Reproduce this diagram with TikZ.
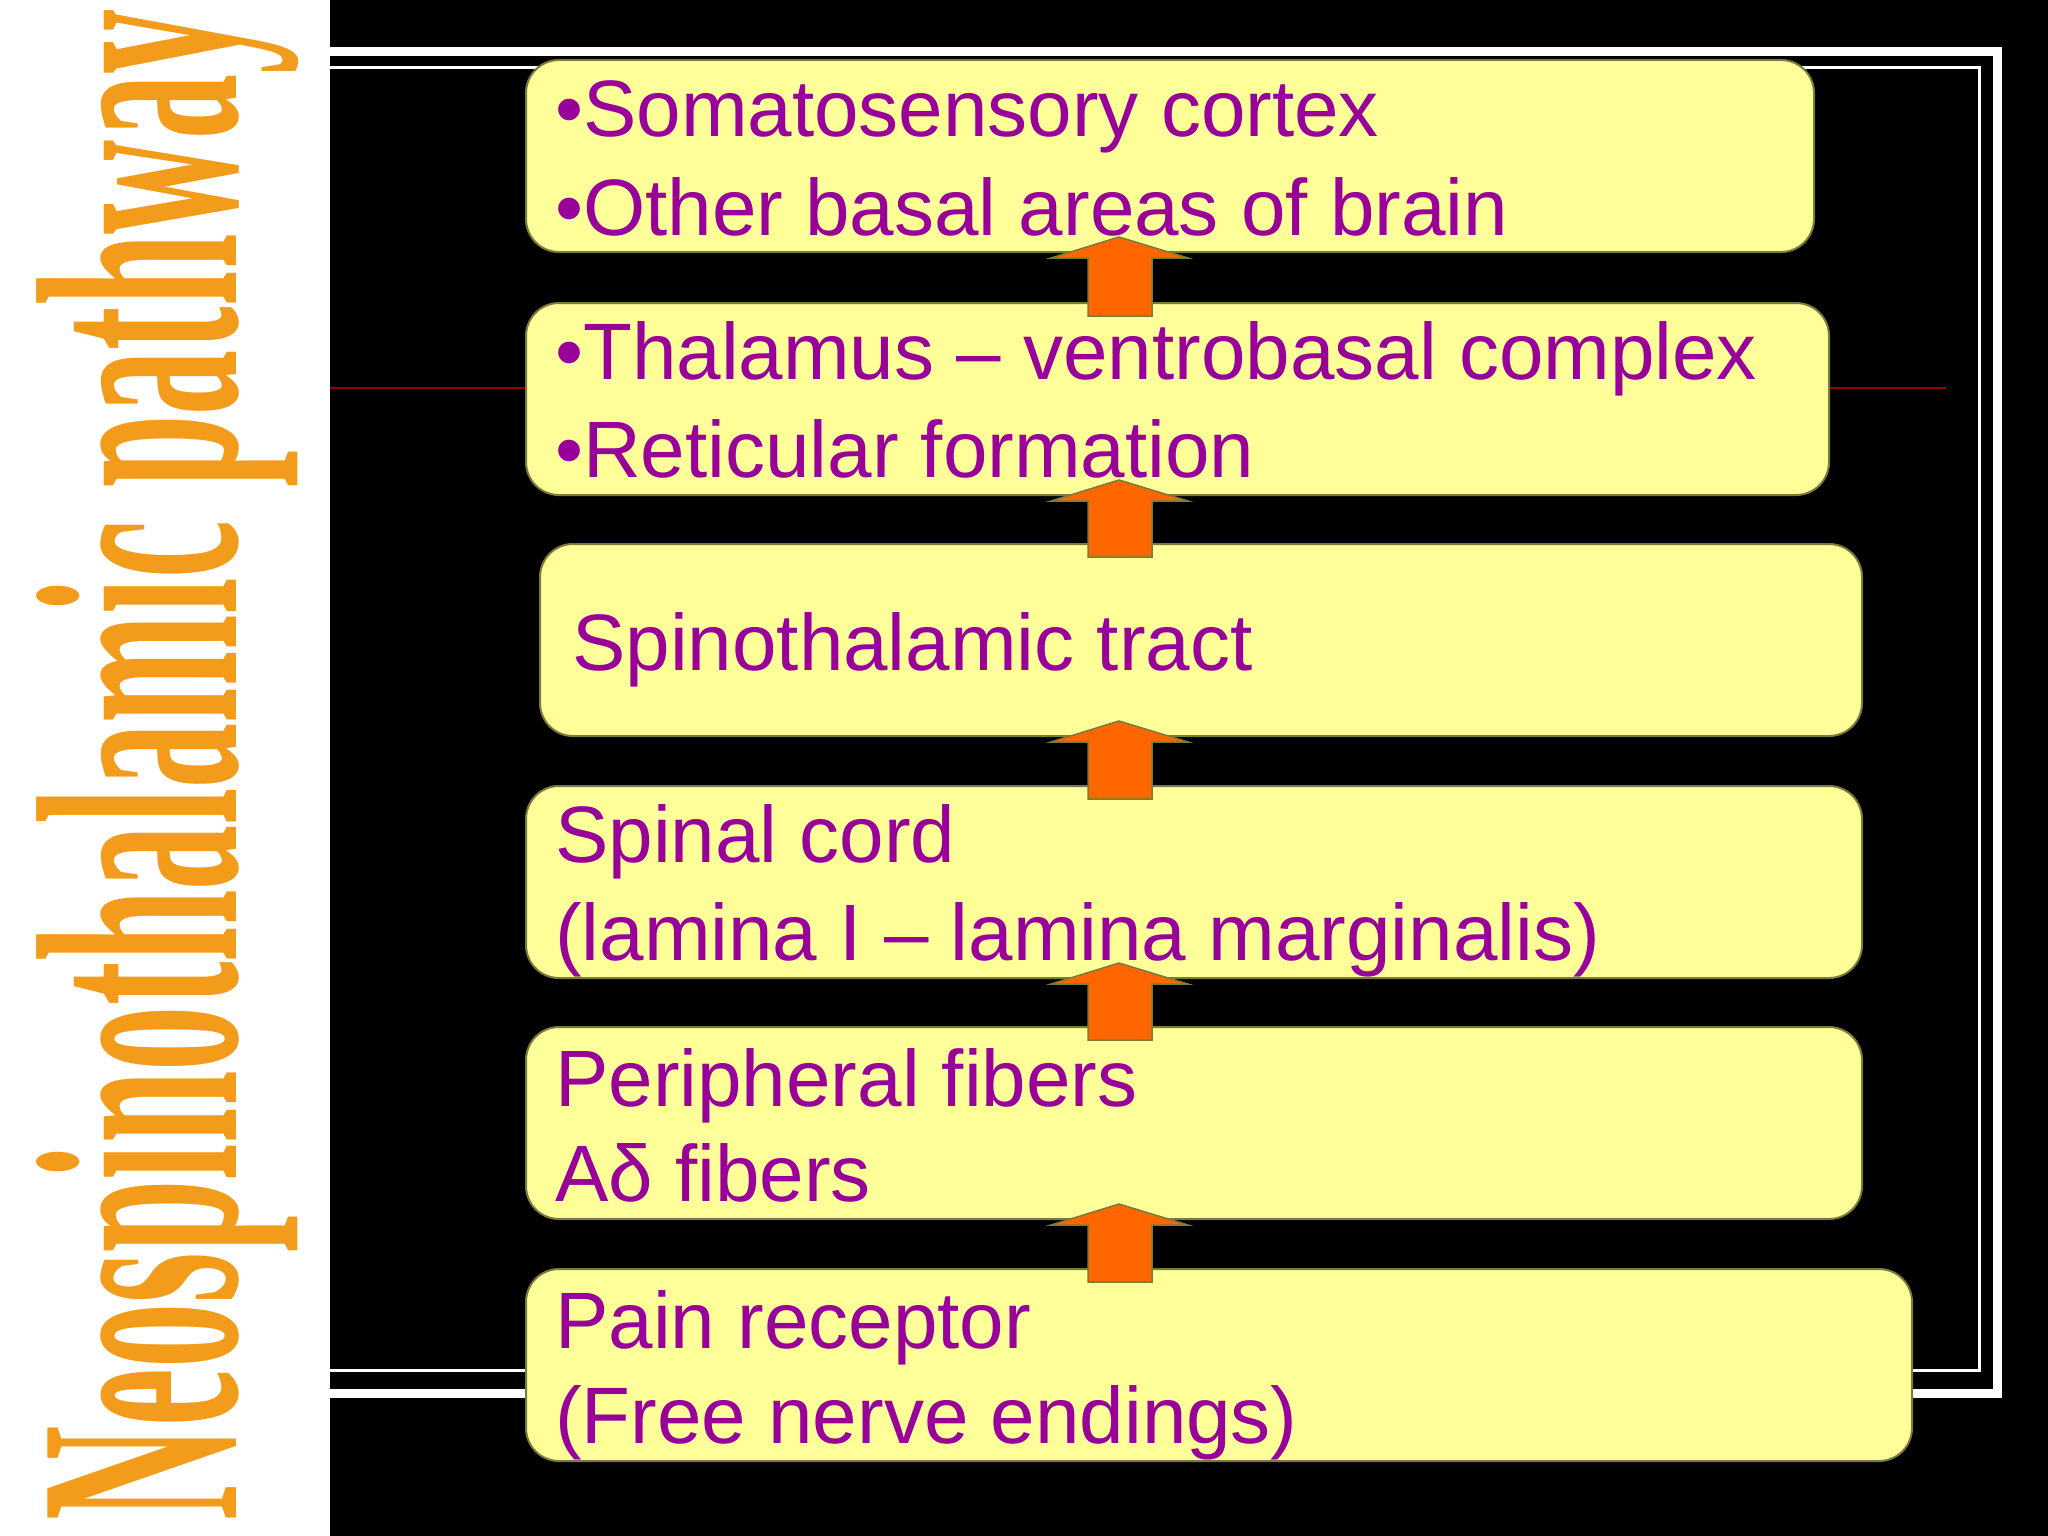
\documentclass[tikz,border=0pt]{standalone}
\usepackage{fontspec}
\setmainfont{Liberation Sans}
\newfontfamily\titlefont{Liberation Serif}
\usetikzlibrary{calc}
\definecolor{boxfill}{HTML}{FFFF99}
\definecolor{boxline}{HTML}{7A7A3A}
\definecolor{txt}{HTML}{990099}
\definecolor{arrfill}{HTML}{FF6600}
\definecolor{titleor}{HTML}{F39C1B}
\tikzset{
  stagebox/.style={draw=boxline, line width=2pt, fill=boxfill, rounded corners=33pt, anchor=north west, inner sep=0pt},
  lbl/.style={anchor=base west, inner sep=0pt, text=txt, font=\fontsize{80}{96}\selectfont},
  arrowshape/.style={fill=arrfill, draw=boxline, line width=1.5pt},
}
\newcommand{\upflow}[2]{%
  \draw[arrowshape] let \p1=(#2.south), \p2=(#1.north) in
    (1088pt,\y2-14pt) -- (1088pt,\y1-5pt) -- (1051pt,\y1-5pt) -- (1119pt,\y1+16pt)
    -- (1188pt,\y1-5pt) -- (1152pt,\y1-5pt) -- (1152pt,\y2-14pt) -- cycle;}
\begin{document}
\begin{tikzpicture}[x=1pt,y=-1pt]
\fill[black] (0,0) rectangle (2048,1536);
\useasboundingbox (0,0) rectangle (2048,1536);
\fill[white] (0,0) rectangle (330,1536);
% frame
\draw[white, line width=9pt] (330,52) -- (1997,52) -- (1997,1393) -- (330,1393);
\draw[white, line width=3pt] (330,68) -- (1979,68) -- (1979,1370) -- (330,1370);
\draw[red!60!black, line width=2.5pt] (330,388) -- (1946,388);
% title
\node[rotate=90, text=titleor, inner sep=0pt] (title) at (168,765)
  {\resizebox*{1510pt}{262pt}{\titlefont\bfseries Neospinothalamic pathway}};
% boxes
\node[stagebox, minimum width=1288pt, minimum height=192pt] (b1) at (525,59) {};
\node[stagebox, minimum width=1303pt, minimum height=192pt] (b2) at (525,302) {};
\node[stagebox, minimum width=1322pt, minimum height=192pt] (b3) at (539,543) {};
\node[stagebox, minimum width=1336pt, minimum height=192pt] (b4) at (525,785) {};
\node[stagebox, minimum width=1336pt, minimum height=192pt] (b5) at (525,1026) {};
\node[stagebox, minimum width=1386pt, minimum height=192pt] (b6) at (525,1268) {};
% texts
\node[lbl] (t1a) at (555,137) {•Somatosensory cortex};
\node[lbl] (t1b) at (555,235) {•Other basal areas of brain};
\node[lbl] (t2a) at (555,379) {•Thalamus – ventrobasal complex};
\node[lbl] (t2b) at (555,477) {•Reticular formation};
\node[lbl] (t3) at (572,670) {Spinothalamic tract};
\node[lbl] (t4a) at (555,862) {Spinal cord};
\node[lbl] (t4b) at (555,960) {(lamina I – lamina marginalis)};
\node[lbl] (t5a) at (555,1106) {Peripheral fibers};
\node[lbl] (t5b) at (555,1201) {Aδ fibers};
\node[lbl] (t6a) at (555,1348) {Pain receptor};
\node[lbl] (t6b) at (555,1443) {(Free nerve endings)};
% arrows
\upflow{b2}{b1}
\upflow{b3}{b2}
\upflow{b4}{b3}
\upflow{b5}{b4}
\upflow{b6}{b5}
\end{tikzpicture}
\end{document}
